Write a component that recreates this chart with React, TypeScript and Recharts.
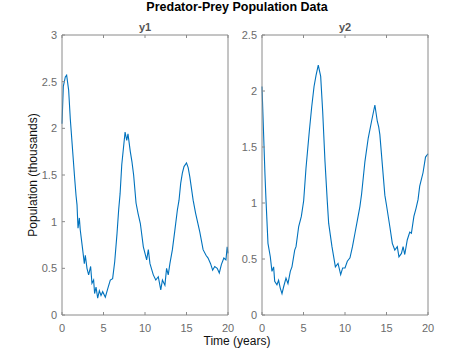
import { LineChart, Line, XAxis, YAxis } from "recharts";

// prey (y1) and predator (y2)
const y1Time = [0, 0.16, 0.4, 0.56, 0.8, 1.0, 1.29, 1.53, 1.69, 1.81, 1.93, 2.09, 2.2, 2.49, 2.69, 2.81, 3.01, 3.21, 3.45, 3.61, 3.81, 3.93, 4.1, 4.3, 4.5, 4.7, 4.9, 5.22, 5.54, 5.82, 6.1, 6.35, 6.63, 6.83, 7.0, 7.2, 7.6, 7.8, 7.95, 8.23, 8.43, 8.63, 8.92, 9.16, 9.44, 9.8, 10.0, 10.2, 10.4, 10.6, 11.0, 11.3, 11.6, 11.9, 12.1, 12.4, 12.6, 12.8, 13.0, 13.3, 13.6, 13.9, 14.1, 14.3, 14.5, 14.7, 15.0, 15.2, 15.4, 15.8, 16.1, 16.6, 17.0, 17.35, 17.6, 17.9, 18.15, 18.4, 18.7, 18.95, 19.2, 19.5, 19.75, 19.9, 20];
const y1Vals = [2.05, 2.45, 2.55, 2.57, 2.41, 2.1, 1.75, 1.46, 1.28, 1.18, 0.93, 1.04, 0.91, 0.7, 0.55, 0.64, 0.5, 0.43, 0.52, 0.34, 0.375, 0.23, 0.3, 0.18, 0.26, 0.21, 0.25, 0.19, 0.29, 0.375, 0.39, 0.57, 0.875, 1.13, 1.3, 1.61, 1.96, 1.87, 1.94, 1.75, 1.64, 1.5, 1.2, 1.09, 0.98, 0.73, 0.66, 0.59, 0.7, 0.55, 0.43, 0.375, 0.41, 0.27, 0.375, 0.32, 0.5, 0.43, 0.55, 0.7, 0.91, 1.125, 1.23, 1.41, 1.52, 1.59, 1.63, 1.58, 1.48, 1.23, 1.09, 0.89, 0.7, 0.64, 0.61, 0.55, 0.48, 0.52, 0.5, 0.45, 0.54, 0.61, 0.59, 0.73, 0.66];

const y2Time = [0, 0.36, 0.48, 0.72, 1.0, 1.2, 1.4, 1.53, 1.8, 2.0, 2.2, 2.41, 2.6, 2.89, 3.13, 3.41, 3.61, 3.94, 4.1, 4.42, 4.74, 5.02, 5.3, 5.7, 5.99, 6.27, 6.51, 6.78, 7.07, 7.31, 7.59, 7.87, 8.03, 8.43, 8.84, 9.16, 9.48, 9.72, 10.0, 10.28, 10.6, 10.9, 11.2, 11.5, 11.8, 12.0, 12.4, 12.8, 13.2, 13.6, 13.89, 14.06, 14.2, 14.5, 14.8, 15.0, 15.4, 15.7, 16.0, 16.3, 16.5, 16.8, 17.0, 17.2, 17.5, 17.8, 18.0, 18.3, 18.55, 18.8, 19.0, 19.4, 19.7, 20];
const y2Vals = [2.04, 1.25, 1.03, 0.64, 0.52, 0.39, 0.43, 0.3, 0.27, 0.31, 0.24, 0.19, 0.25, 0.33, 0.28, 0.39, 0.43, 0.58, 0.61, 0.79, 0.88, 1.02, 1.31, 1.64, 1.86, 2.04, 2.14, 2.23, 2.13, 1.82, 1.37, 1.01, 0.82, 0.61, 0.43, 0.46, 0.36, 0.42, 0.42, 0.48, 0.51, 0.61, 0.73, 0.85, 0.97, 1.08, 1.37, 1.58, 1.73, 1.875, 1.73, 1.68, 1.61, 1.34, 1.07, 0.98, 0.79, 0.64, 0.58, 0.61, 0.52, 0.55, 0.61, 0.54, 0.67, 0.74, 0.73, 0.88, 0.95, 1.03, 1.15, 1.27, 1.41, 1.44];

const xTicks = [0, 5, 10, 15, 20];
const y1Ticks = [0, 0.5, 1, 1.5, 2, 2.5, 3];
const y2Ticks = [0, 0.5, 1, 1.5, 2, 2.5];

const FONT = "'Liberation Sans', Arial, Helvetica, sans-serif";
const LABEL = "#6b6b6b";
const AXIS = "#8a8a8a";

const toRows = (t: number[], v: number[]) => t.map((x, i) => ({ t: x, v: v[i] }));

// tick marks point inward like matlab
const BottomTick = ({ x, y, payload }: any) => (
  <g>
    <line x1={x} x2={x} y1={y} y2={y - 3} stroke={AXIS} />
    <text x={x} y={y + 17} textAnchor="middle" fill={LABEL} fontSize={11} fontFamily={FONT}>{payload.value}</text>
  </g>
);
const TopTick = ({ x, y }: any) => <line x1={x} x2={x} y1={y} y2={y + 3} stroke={AXIS} />;
const LeftTick = ({ x, y, payload }: any) => (
  <g>
    <line x1={x} x2={x + 3} y1={y} y2={y} stroke={AXIS} />
    <text x={x - 5} y={y + 4} textAnchor="end" fill={LABEL} fontSize={11} fontFamily={FONT}>{payload.value}</text>
  </g>
);
const RightTick = ({ x, y }: any) => <line x1={x} x2={x - 3} y1={y} y2={y} stroke={AXIS} />;

function Panel({ rows, yMax, yTicks, left }: any) {
  return (
    <div style={{ position: "absolute", left, top: 0 }}>
      <LineChart width={240} height={355} data={rows} margin={{ top: 34, right: 11, bottom: 20, left: 32 }}>
        <XAxis xAxisId="b" dataKey="t" type="number" domain={[0, 20]} ticks={xTicks} height={20}
          stroke={AXIS} tickLine={false} tickSize={0} tickMargin={0} tick={<BottomTick />} />
        <XAxis xAxisId="t" orientation="top" dataKey="t" type="number" domain={[0, 20]} ticks={xTicks} height={1}
          stroke={AXIS} tickLine={false} tickSize={0} tickMargin={0} tick={<TopTick />} />
        <YAxis yAxisId="l" type="number" domain={[0, yMax]} ticks={yTicks} width={30}
          stroke={AXIS} tickLine={false} tickSize={0} tickMargin={0} tick={<LeftTick />} />
        <YAxis yAxisId="r" orientation="right" type="number" domain={[0, yMax]} ticks={yTicks} width={1}
          stroke={AXIS} tickLine={false} tickSize={0} tickMargin={0} tick={<RightTick />} />
        <Line xAxisId="b" yAxisId="l" dataKey="v" stroke="#0072BD" strokeWidth={1.1} dot={false} isAnimationActive={false} />
      </LineChart>
    </div>
  );
}

export default function App() {
  const txt: any = { position: "absolute", fontFamily: FONT, whiteSpace: "nowrap", lineHeight: 1 };
  return (
    <div style={{ position: "absolute", left: 0, top: 0, width: 474, height: 355, background: "#fff", overflow: "hidden" }}>
      <Panel rows={toRows(y1Time, y1Vals)} yMax={3} yTicks={y1Ticks} left={0} />
      <Panel rows={toRows(y2Time, y2Vals)} yMax={2.5} yTicks={y2Ticks} left={200} />

      <div style={{ ...txt, left: 0, width: 474, top: 1, textAlign: "center", fontSize: 12.5, fontWeight: "bold", color: "#000" }}>
        Predator-Prey Population Data
      </div>
      <div style={{ ...txt, left: 62, width: 166, top: 22, textAlign: "center", fontSize: 11, fontWeight: "bold", color: "#555" }}>y1</div>
      <div style={{ ...txt, left: 262, width: 166, top: 22, textAlign: "center", fontSize: 11, fontWeight: "bold", color: "#555" }}>y2</div>
      <div style={{ ...txt, left: 0, width: 474, top: 335, textAlign: "center", fontSize: 12, color: "#111" }}>Time (years)</div>
      <div style={{ ...txt, left: 33, top: 175, fontSize: 12, color: "#111", transform: "translate(-50%, -50%) rotate(-90deg)" }}>
        Population (thousands)
      </div>
    </div>
  );
}
